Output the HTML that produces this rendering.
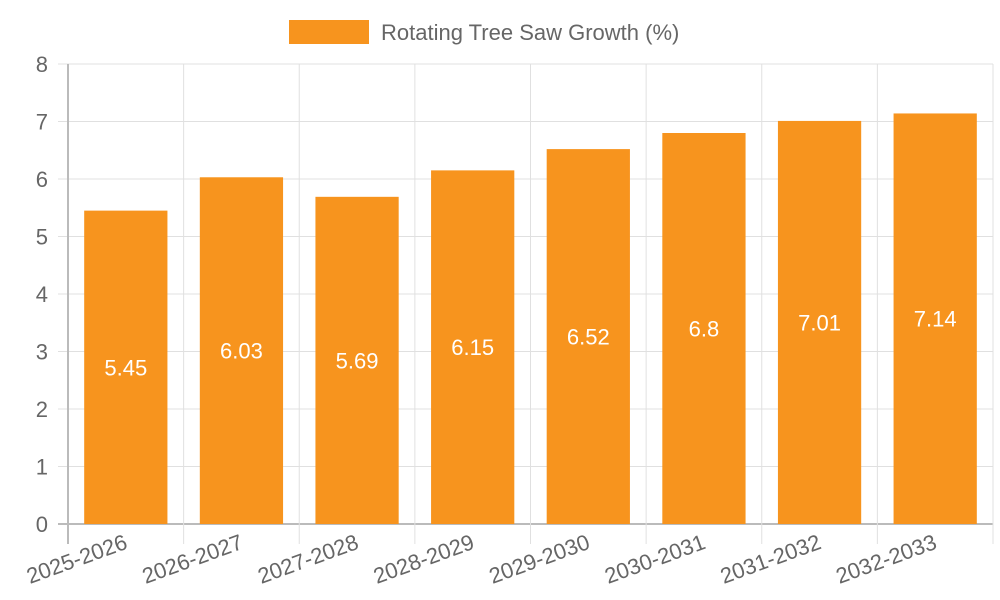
<!DOCTYPE html>
<html><head><meta charset="utf-8"><style>
html,body{margin:0;padding:0;background:#fff;}
svg{display:block;font-family:"Liberation Sans",sans-serif;}
</style></head><body>
<svg id="chart" width="1000" height="600">
<g id="legend">
<rect x="289" y="20" width="80" height="24" fill="#f7941e"></rect>
<text x="381" y="40" font-size="22" fill="#666">Rotating Tree Saw Growth (%)</text>
</g>
<g id="grid"></g><g id="bars"></g><g id="labels"></g>
</svg>
<script>
const categories=["2025-2026","2026-2027","2027-2028","2028-2029","2029-2030","2030-2031","2031-2032","2032-2033"];
const values=[5.45,6.03,5.69,6.15,6.52,6.8,7.01,7.14];
const valueLabels=["5.45","6.03","5.69","6.15","6.52","6.8","7.01","7.14"];
const yTicks=[0,1,2,3,4,5,6,7,8];
const NS="http://www.w3.org/2000/svg";
const L=68,R=993,T=64,B=524,yMax=8;
const bw=(R-L)/categories.length;
const x=i=>L+i*bw;
const y=v=>B-(v/yMax)*(B-T);
function mk(tag,attrs,parent,text){const e=document.createElementNS(NS,tag);for(const k in attrs)e.setAttribute(k,attrs[k]);if(text!==undefined)e.textContent=text;document.getElementById(parent).appendChild(e);return e;}
yTicks.forEach(t=>{
 const g=mk('line',{x1:58,x2:R,y1:y(t),y2:y(t),stroke:t===0?'#bbb':'#e0e0e0','stroke-width':t===0?2:1},'grid');
 
 
 const tx=mk('text',{x:48,y:y(t)+8,'text-anchor':'end','font-size':22,fill:'#666'},'labels',String(t));
 
 
});
for(let i=0;i<=categories.length;i++){
 const g=mk('line',{x1:x(i),x2:x(i),y1:T,y2:544,stroke:i===0?'#bbb':'#e0e0e0','stroke-width':i===0?2:1},'grid');
 
 
}
categories.forEach((c,i)=>{
 const w=bw*0.72,cx=x(i)+bw/2;
 const b=mk('rect',{x:cx-w/2,y:y(values[i]),width:w,height:B-y(values[i]),fill:'#f7941e'},'bars');
 
 
 const v=mk('text',{x:cx,y:(y(values[i])+B)/2+8,'text-anchor':'middle','font-size':22,fill:'#fff'},'labels',valueLabels[i]);
 
 
 const lx=cx+3,ly=548;
 const t=mk('text',{x:lx,y:ly,'text-anchor':'end','font-size':22,fill:'#666',transform:`rotate(-20 ${lx} ${ly})`},'labels',c);
 
 
});
</script>
</body></html>
